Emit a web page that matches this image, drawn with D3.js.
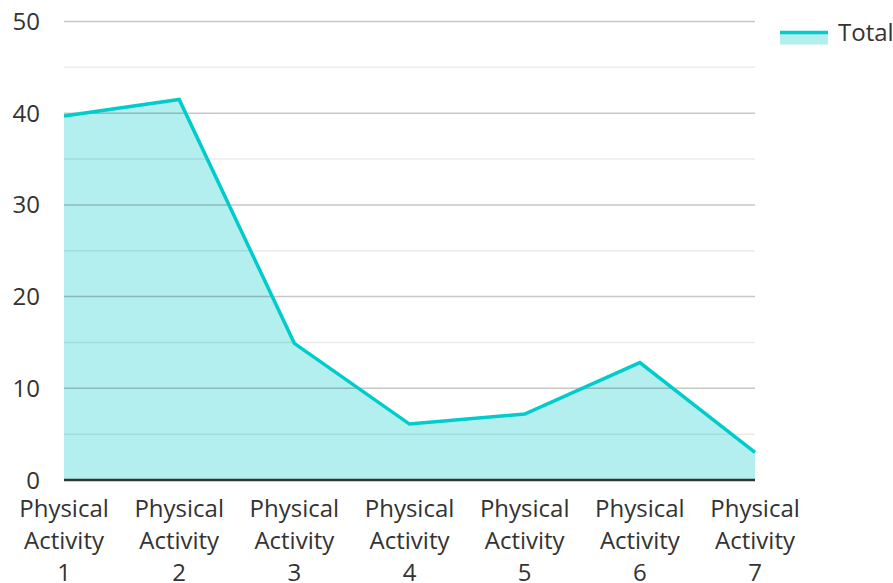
<!DOCTYPE html>
<html>
<head>
<meta charset="utf-8">
<script src="https://cdn.jsdelivr.net/npm/d3@7"></script>
<style>
  body { margin: 0; background: #fff; }
  text { font-family: "Open Sans", sans-serif; fill: #333; }
</style>
</head>
<body>
<div id="chart"></div>
<script>
// data
var categories = ["Physical Activity 1", "Physical Activity 2", "Physical Activity 3",
  "Physical Activity 4", "Physical Activity 5", "Physical Activity 6", "Physical Activity 7"];
var totals = [39.7, 41.5, 14.9, 6.1, 7.2, 12.8, 3.0];
var yTicks = [0, 10, 20, 30, 40, 50];
var minorTicks = [5, 15, 25, 35, 45];
var seriesName = "Total";

var W = 893, H = 583;
var margin = {top: 21.5, right: 138, bottom: 103, left: 64};
var width = W - margin.left - margin.right,
    height = H - margin.top - margin.bottom;

var svg = d3.select("#chart").append("svg")
    .attr("width", W)
    .attr("height", H)
  .append("g")
    .attr("transform", "translate(" + margin.left + "," + margin.top + ")");

var x = d3.scalePoint().domain(categories).range([0, width]);
var y = d3.scaleLinear().domain([0, 50]).range([height, 0]);

var data = categories.map(function(c, i) { return {c: c, v: totals[i]}; });

// fill
var area = d3.area()
    .x(function(d) { return x(d.c); })
    .y0(height)
    .y1(function(d) { return y(d.v); });

svg.append("path")
    .datum(data)
    .attr("fill", "#b2efee")
    .attr("d", area);

// grid lines (drawn over fill, slightly transparent)
svg.selectAll(".minor")
    .data(minorTicks)
  .enter().append("line")
    .attr("x1", 0).attr("x2", width)
    .attr("y1", function(d) { return y(d); })
    .attr("y2", function(d) { return y(d); })
    .attr("stroke", "#000").attr("stroke-opacity", 0.08)
    .attr("stroke-width", 1.5);

svg.selectAll(".major")
    .data(yTicks.filter(function(d) { return d > 0; }))
  .enter().append("line")
    .attr("x1", 0).attr("x2", width)
    .attr("y1", function(d) { return y(d); })
    .attr("y2", function(d) { return y(d); })
    .attr("stroke", "#000").attr("stroke-opacity", 0.22)
    .attr("stroke-width", 1.5);

// line
var line = d3.line()
    .x(function(d) { return x(d.c); })
    .y(function(d) { return y(d.v); });

svg.append("path")
    .datum(data)
    .attr("fill", "none")
    .attr("stroke", "#00cccc")
    .attr("stroke-width", 3.5)
    .attr("d", line);

// baseline
svg.append("line")
    .attr("x1", 0).attr("x2", width)
    .attr("y1", height).attr("y2", height)
    .attr("stroke", "#333").attr("stroke-width", 2.5);

// y labels
svg.selectAll(".ylab")
    .data(yTicks)
  .enter().append("text")
    .attr("x", -24)
    .attr("y", function(d) { return y(d) + 8.5; })
    .attr("text-anchor", "end")
    .style("font-size", "24px")
    .text(function(d) { return d; });

// x labels, split into lines
var xl = svg.selectAll(".xlab")
    .data(categories)
  .enter().append("text")
    .attr("text-anchor", "middle")
    .attr("transform", function(d) { return "translate(" + x(d) + "," + (height + 37) + ")"; })
    .style("font-size", "24px");

xl.selectAll("tspan")
    .data(function(d) { return ["Physical", "Activity", d.split(" ").pop()]; })
  .enter().append("tspan")
    .attr("x", 0)
    .attr("dy", function(d, i) { return i ? 32 : 0; })
    .text(function(d) { return d; });

// legend
var lg = svg.append("g")
    .attr("transform", "translate(" + (width + 25) + ",0)");
lg.append("rect")
    .attr("x", 0).attr("y", 11)
    .attr("width", 48).attr("height", 12)
    .attr("fill", "#b2efee");
lg.append("line")
    .attr("x1", 0).attr("x2", 48)
    .attr("y1", 11).attr("y2", 11)
    .attr("stroke", "#00cccc").attr("stroke-width", 3.5);
lg.append("text")
    .attr("x", 58).attr("y", 19.5)
    .style("font-size", "24px")
    .text(seriesName);
</script>
</body>
</html>
